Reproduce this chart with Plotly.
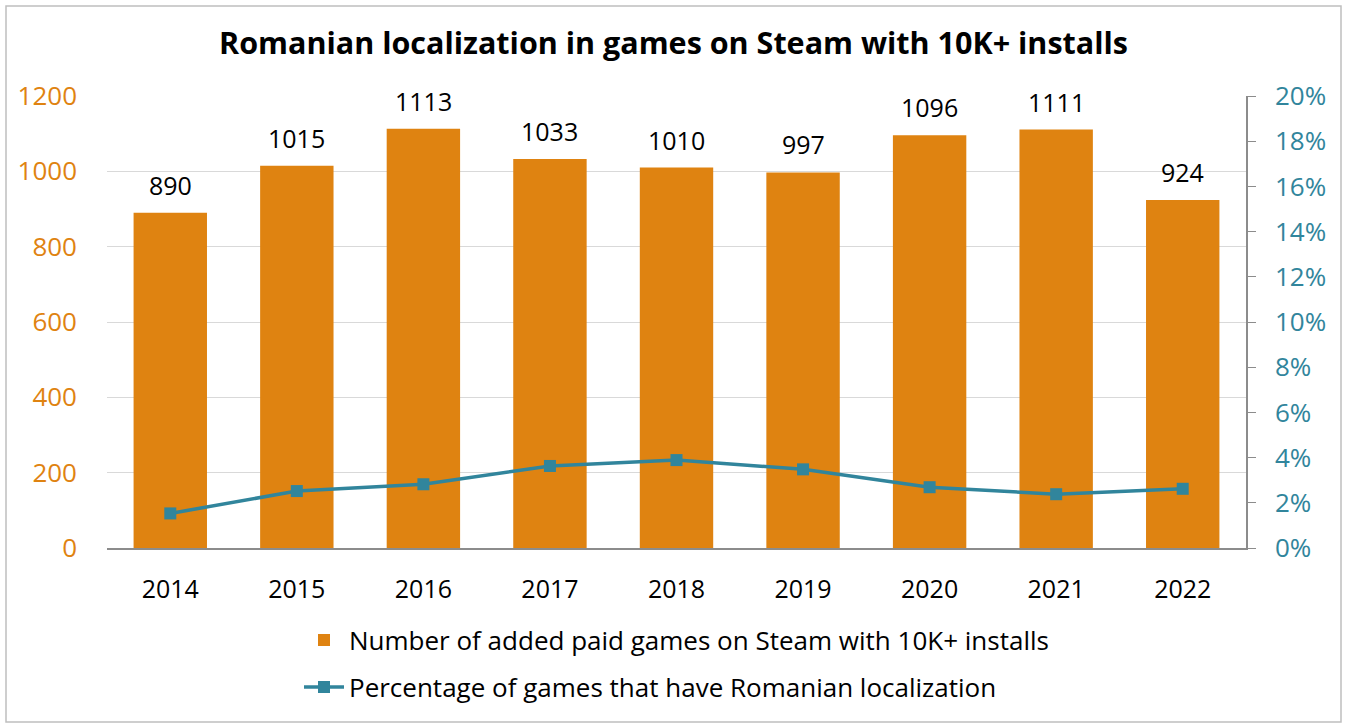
import plotly.graph_objects as go

years = ["2014", "2015", "2016", "2017", "2018", "2019", "2020", "2021", "2022"]
games = [890, 1015, 1113, 1033, 1010, 997, 1096, 1111, 924]
pct = [0.0153, 0.0252, 0.0282, 0.0363, 0.0389, 0.0348, 0.0269, 0.0238, 0.0262]

ORANGE = "#DF8311"
TEAL = "#31859C"
FONT = "Open Sans"

fig = go.Figure()
fig.add_trace(go.Bar(
    x=years, y=games, name="Number of added paid games on Steam with 10K+ installs",
    marker=dict(color=ORANGE, line=dict(width=0)),
    legendgroup="a", width=0.58,
))
fig.add_trace(go.Scatter(
    x=years, y=pct, name="Percentage of games that have Romanian localization",
    yaxis="y2", mode="lines+markers",
    line=dict(color=TEAL, width=3.5),
    marker=dict(symbol="square", size=12, color=TEAL),
    legendgroup="b",
))

# data labels above bars (category index on the category axis)
for i, v in enumerate(games):
    fig.add_annotation(x=i, y=v, text=str(v), showarrow=False, xref="x", yref="y",
                       yanchor="bottom", yshift=9,
                       font=dict(size=25, color="#000000", family=FONT))

W, H = 1347, 727
L, R, T, B = 107, 101, 96, 179
pw, ph = W - L - R, H - T - B

fig.update_layout(
    width=W, height=H,
    margin=dict(l=L, r=R, t=T, b=B),
    paper_bgcolor="white", plot_bgcolor="white",
    font=dict(family=FONT, size=24, color="#000000"),
    title=dict(text="<b>Romanian localization in games on Steam with 10K+ installs</b>",
               x=0.5, xanchor="center", y=1 - 43 / H, yanchor="middle",
               font=dict(size=30.5, family=FONT, color="#000000")),
    showlegend=True,
    legend=dict(orientation="v", x=0.5, xanchor="center", y=-0.152, yanchor="top",
                font=dict(size=26, family=FONT, color="#000000"),
                tracegroupgap=10, itemwidth=40, bgcolor="rgba(0,0,0,0)"),
    xaxis=dict(type="category", range=[-0.5, len(years) - 0.5],
               showline=True, linecolor="#8C8C8C", linewidth=1.5, ticks="",
               tickfont=dict(size=25, color="#000000"), showgrid=False,
               ticklabelstandoff=18),
    yaxis=dict(range=[0, 1200], dtick=200, showgrid=True, gridcolor="#D9D9D9", gridwidth=1,
               tickfont=dict(size=26, color=ORANGE), showline=False, ticks="",
               zeroline=False, ticklabelstandoff=29),
    yaxis2=dict(range=[0, 0.2], dtick=0.02, tickformat=".0%", overlaying="y", side="right",
                showgrid=False, showline=True, linecolor="#8C8C8C", linewidth=1.5,
                ticks="outside", ticklen=8, tickcolor="#8C8C8C",
                tickfont=dict(size=26, color=TEAL), zeroline=False, ticklabelstandoff=14),
    shapes=[dict(type="rect", xref="paper", yref="paper",
                 x0=(6 - L) / pw, x1=(1341 - L) / pw,
                 y0=(H - B - 722) / ph, y1=(H - B - 6) / ph,
                 line=dict(color="#BFBFBF", width=1.5), fillcolor="rgba(0,0,0,0)", layer="below")],
)

fig.write_html("out.html")
